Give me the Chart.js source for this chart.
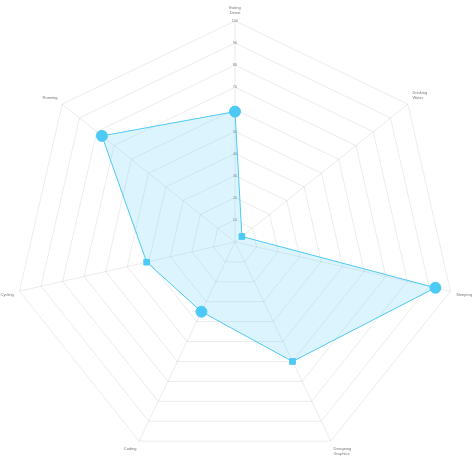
<!DOCTYPE html>
<html><head>
<script src="https://cdn.jsdelivr.net/npm/chart.js@4"></script>
<style>html,body{margin:0;background:#fff}#wrap{width:474px;height:474px}</style>
</head><body>
<div id="wrap"><canvas id="c"></canvas></div>
<script>
const labels = [['Eating', 'Donut'], ['Drinking', 'Water'], 'Sleeping', ['Designing', 'Graphics'], 'Coding', 'Cycling', 'Running'];
const values = [59, 4, 93, 60, 35, 41, 77];
const pointStyles = ['circle', 'rect', 'circle', 'rect', 'circle', 'rect', 'circle'];
const pointSizes = [5.5, 4, 5.5, 4, 5.5, 4, 5.5];

new Chart(document.getElementById('c'), {
    type: 'radar',
    data: {
        labels: labels,
        datasets: [{
            data: values,
            borderColor: '#4dc9f6',
            backgroundColor: 'rgba(77, 201, 246, 0.2)',
            pointBackgroundColor: '#4dc9f6',
            pointBorderColor: '#4dc9f6',
            pointStyle: pointStyles,
            pointRadius: pointSizes,
            borderWidth: 1
        }]
    },
    options: {
        responsive: true,
        maintainAspectRatio: false,
        animation: false,
        layout: { padding: { top: -6, bottom: -10, left: -10, right: -10 } },
        plugins: { legend: { display: false }, tooltip: { enabled: false } },
        scales: {
            r: {
                min: 0,
                max: 100,
                ticks: { stepSize: 10, font: { size: 4 }, color: '#888', backdropColor: 'transparent' },
                pointLabels: { font: { size: 4 }, color: '#777', padding: 2 },
                grid: { color: 'rgba(0,0,0,0.08)' },
                angleLines: { color: 'rgba(0,0,0,0.08)' }
            }
        }
    }
});
</script>
</body></html>
